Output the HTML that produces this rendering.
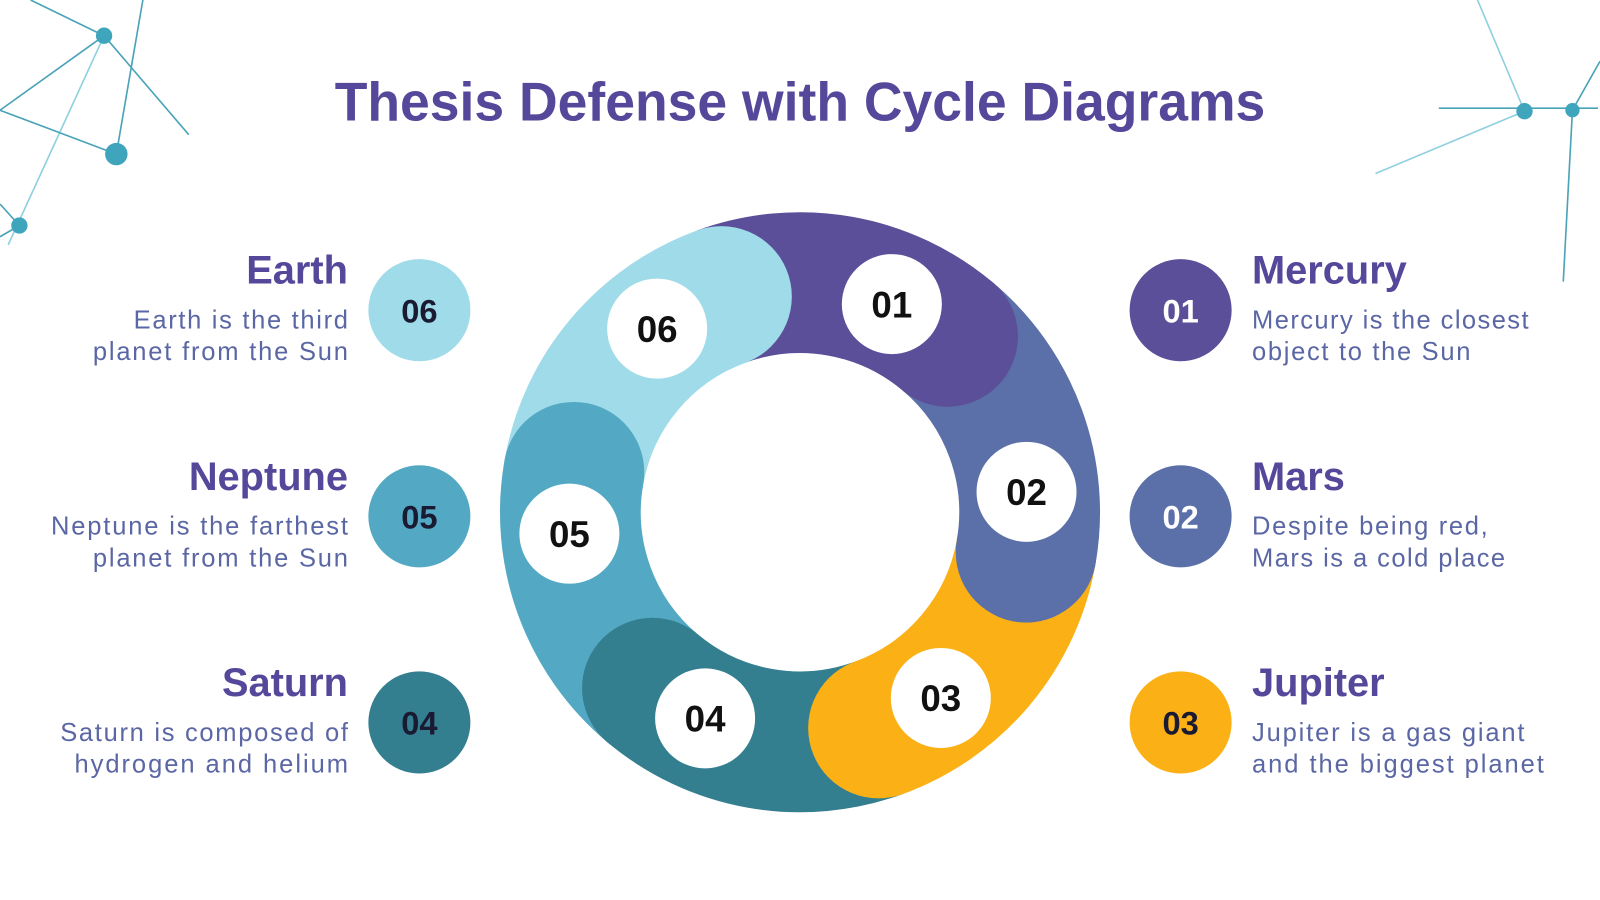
<!DOCTYPE html>
<html><head><meta charset="utf-8"><style>
html,body{margin:0;padding:0;background:#fff;}
svg{display:block;}
text{font-family:"Liberation Sans",sans-serif;}
.t{font-weight:bold;fill:#55489a;font-size:39px;}
.d{fill:#5b67a4;font-size:25px;}
.n{font-weight:bold;font-size:36px;fill:#111;text-anchor:middle;}
.s{font-weight:bold;font-size:32px;text-anchor:middle;}
</style></head><body>
<svg width="1600" height="900" viewBox="0 0 1568 882" xmlns="http://www.w3.org/2000/svg">
<g stroke="#4aa3b8" stroke-width="1.6" fill="none">
<line x1="30" y1="0" x2="102" y2="35"/><line x1="102" y1="35" x2="185" y2="132"/><line x1="102" y1="35" x2="0" y2="108"/>
<line x1="102" y1="35" x2="8" y2="240" stroke="#8fd0e0"/><line x1="140" y1="0" x2="114" y2="151"/><line x1="0" y1="108" x2="114" y2="151"/>
<line x1="19" y1="221" x2="0" y2="200"/><line x1="19" y1="221" x2="0" y2="232"/>
<line x1="1410" y1="106" x2="1566" y2="106"/><line x1="1348" y1="170" x2="1494" y2="109" stroke="#8fd0e0"/><line x1="1448" y1="0" x2="1494" y2="109" stroke="#8fd0e0"/>
<line x1="1568" y1="60" x2="1541" y2="108"/><line x1="1541" y1="108" x2="1532" y2="276"/>
</g>
<g fill="#3fa5bd"><circle cx="102" cy="35" r="8"/><circle cx="114" cy="151" r="11"/><circle cx="19" cy="221" r="8"/><circle cx="1494" cy="109" r="8"/><circle cx="1541" cy="108" r="7"/></g>
<text x="784" y="118" text-anchor="middle" font-size="54" font-weight="bold" fill="#55489a" textLength="912" lengthAdjust="spacingAndGlyphs">Thesis Defense with Cycle Diagrams</text>
<g fill="none" stroke-width="138">
<path d="M707 290.6 A225 225 0 0 1 928.6 329.6" stroke="#5a4f98"/>
<path d="M928.6 329.6 A225 225 0 0 1 1005.6 541.1" stroke="#5b70a8"/>
<path d="M1005.6 541.1 A225 225 0 0 1 861 713.4" stroke="#fbb116"/>
<path d="M861 713.4 A225 225 0 0 1 639.4 674.4" stroke="#337f8f"/>
<path d="M639.4 674.4 A225 225 0 0 1 562.4 462.9" stroke="#53a9c4"/>
<path d="M562.4 462.9 A225 225 0 0 1 707 290.6" stroke="#9fdbe8"/>
</g>
<circle cx="928.6" cy="329.6" r="69" fill="#5a4f98"/>
<circle cx="1005.6" cy="541.1" r="69" fill="#5b70a8"/>
<circle cx="861" cy="713.4" r="69" fill="#fbb116"/>
<circle cx="639.4" cy="674.4" r="69" fill="#337f8f"/>
<circle cx="562.4" cy="462.9" r="69" fill="#53a9c4"/>
<circle cx="707" cy="290.6" r="69" fill="#9fdbe8"/>
<g fill="#fff"><circle cx="874" cy="298" r="49"/><circle cx="1006" cy="482" r="49"/><circle cx="922" cy="684" r="49"/><circle cx="691" cy="704" r="49"/><circle cx="558" cy="523" r="49"/><circle cx="644" cy="322" r="49"/></g>
<text class="n" x="874" y="311">01</text><text class="n" x="1006" y="495">02</text><text class="n" x="922" y="697">03</text>
<text class="n" x="691" y="717">04</text><text class="n" x="558" y="536">05</text><text class="n" x="644" y="335">06</text>
<circle cx="1157" cy="304" r="50" fill="#5a4f98"/><circle cx="1157" cy="506" r="50" fill="#5b70a8"/><circle cx="1157" cy="708" r="50" fill="#fbb116"/>
<circle cx="411" cy="304" r="50" fill="#9fdbe8"/><circle cx="411" cy="506" r="50" fill="#53a9c4"/><circle cx="411" cy="708" r="50" fill="#337f8f"/>
<text class="s" x="1157" y="316" fill="#fff">01</text><text class="s" x="1157" y="518" fill="#fff">02</text><text class="s" x="1157" y="720" fill="#1a1a33">03</text>
<text class="s" x="411" y="316" fill="#1a1a33">06</text><text class="s" x="411" y="518" fill="#1a1a33">05</text><text class="s" x="411" y="720" fill="#1a1a33">04</text>
<g lengthAdjust="spacingAndGlyphs">
<text class="t" x="1227" y="278">Mercury</text><text class="d" x="1227" y="322" textLength="271">Mercury is the closest</text><text class="d" x="1227" y="353" textLength="214">object to the Sun</text>
<text class="t" x="1227" y="480">Mars</text><text class="d" x="1227" y="524" textLength="231">Despite being red,</text><text class="d" x="1227" y="555" textLength="248">Mars is a cold place</text>
<text class="t" x="1227" y="682">Jupiter</text><text class="d" x="1227" y="726" textLength="267">Jupiter is a gas giant</text><text class="d" x="1227" y="757" textLength="286">and the biggest planet</text>
</g>
<g>
<text class="t" x="341" y="278" text-anchor="end">Earth</text><text class="d" x="131" y="322" textLength="210">Earth is the third</text><text class="d" x="91" y="353" textLength="250">planet from the Sun</text>
<text class="t" x="341" y="480" text-anchor="end">Neptune</text><text class="d" x="50" y="524" textLength="291">Neptune is the farthest</text><text class="d" x="91" y="555" textLength="250">planet from the Sun</text>
<text class="t" x="341" y="682" text-anchor="end">Saturn</text><text class="d" x="59" y="726" textLength="282">Saturn is composed of</text><text class="d" x="73" y="757" textLength="268">hydrogen and helium</text>
</g>
</svg>
</body></html>
